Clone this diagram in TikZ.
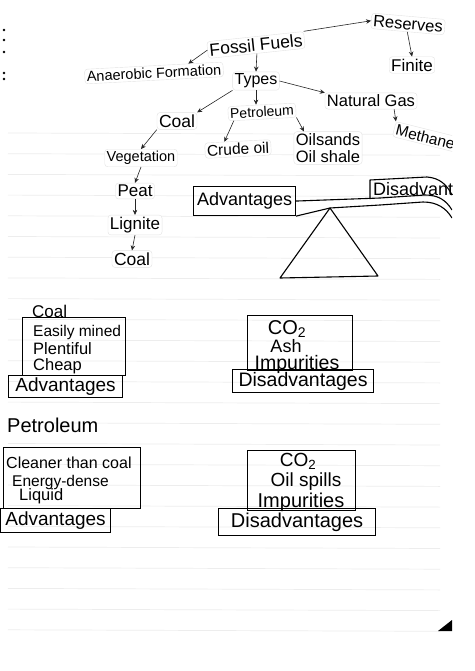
\documentclass[tikz,border=0pt]{standalone}
\usepackage{fontspec}
\setmainfont{Liberation Sans}
\usetikzlibrary{arrows.meta,calc}
\newcommand{\fz}[1]{\fontsize{#1}{#1}\selectfont}
\begin{document}
\begin{tikzpicture}[x=1pt,y=-1pt,
  rule/.style={draw=gray!14, line width=0.7pt},
  lbl/.style={fill=white, draw=gray!22, rounded corners=3pt, inner sep=2pt, text=black},
  arr/.style={-{Stealth[length=5pt,width=4.5pt]}, line width=0.6pt, draw=black!85},
  ink/.style={line width=1.1pt, draw=black, line join=round},
  cbox/.style={draw=black, line width=1.1pt, inner sep=0pt},
  txt/.style={inner sep=0pt, text=black},
]
\useasboundingbox (0,0) rectangle (474,671);
\fill[white] (0,0) rectangle (474,671);
\begin{scope}
\clip (0,0) rectangle (452,671);
% ruled paper
\foreach \k in {0,...,24}{ \draw[rule] (8,{133+20.7*\k}) -- (440,{134.5+20.7*\k}); }
% binder marks
\foreach \yy in {30,40,52,73,79}{ \fill[black] (4,\yy) circle (1.3pt); }
\fill[black] (452,620) -- (452,631) -- (438,631) -- cycle;

% concept map
\node[lbl, font=\fz{17.5}, rotate=6] (ff) at (256,45) {Fossil Fuels};
\node[lbl, font=\fz{16.5}, rotate=-5] (res) at (408,24) {Reserves};
\node[lbl, font=\fz{17}] (fin) at (412,65) {Finite};
\node[lbl, font=\fz{14.5}, rotate=3] (anae) at (154,73) {Anaerobic Formation};
\node[lbl, font=\fz{16}] (types) at (256,81) {Types};
\node[lbl, font=\fz{17.5}] (coal) at (177,121) {Coal};
\node[lbl, font=\fz{14}, rotate=3] (petro) at (262,112) {Petroleum};
\node[lbl, font=\fz{16.5}] (ng) at (371,101) {Natural Gas};
\node[lbl, font=\fz{14.5}] (veg) at (141,158) {Vegetation};
\node[lbl, font=\fz{17}] (peat) at (135,191) {Peat};
\node[lbl, font=\fz{17}] (lig) at (135,225) {Lignite};
\node[lbl, font=\fz{17.5}] (coalb) at (132,259) {Coal};
\node[lbl, font=\fz{15.5}, rotate=3] (crude) at (238,149) {Crude oil};
\node[lbl, font=\fontsize{16.5}{16.5}\selectfont, align=center] (oil) at (328,148) {Oilsands\\Oil shale};
\node[lbl, font=\fz{15.5}, rotate=-14, anchor=west] (meth) at (394,129) {Methane};

\draw[arr] (ff.north east) -- (res.west);
\draw[arr] (res.south) -- (fin.north);
\draw[arr] (ff.west) -- ($(anae.north east)!0.25!(anae.north west)$);
\draw[arr] (ff.south) -- (types.north);
\draw[arr] (types.south west) -- (coal.north east);
\draw[arr] (types.south) -- (types.south |- petro.north);
\draw[arr] (types.east) -- (ng.north west);
\draw[arr] (coal.south west) -- (veg.north);
\draw[arr] ($(petro.south west)!0.08!(petro.south east)$) -- ($(crude.north west)!0.3!(crude.north east)$);
\draw[arr] (petro.south east) -- ($(oil.north west)!0.15!(oil.north east)$);
\draw[arr] ($(ng.south east)!0.25!(ng.south west)$) -- (meth.north west);
\draw[arr] (veg.south) -- (peat.north);
\draw[arr] (peat.south) -- (lig.north);
\draw[arr] (lig.south) -- (coalb.north);

% seesaw
\node[cbox, anchor=north west, minimum width=102pt, minimum height=29pt, font=\fz{18}] (sadv) at (193,186) {Advantages};
\node[txt, font=\fz{18}, anchor=base west] (sdis) at (373,195) {Disadvantages};
\draw[ink] (370,199) -- (370,180) -- (427,177) .. controls (440,178) and (447,185) .. (452,195);
\coordinate (apex) at (330,208);
\draw[ink] (sadv.east) -- (380,198) -- (425,195) .. controls (438,195) and (446,200) .. (452,210);
\draw[ink] (sadv.south east) -- (apex) -- (380,205) -- (423,202) .. controls (437,202) and (446,208) .. (452,218);
\draw[ink] (apex) -- (378,276) -- (280,278) -- cycle;

% coal
\node[txt, font=\fz{17}, anchor=base west] (lcoal) at (32,317) {Coal};
\node[cbox, anchor=north west, minimum width=103pt, minimum height=58pt] (cab) at (22,317) {};
\node[txt, font=\fz{15.5}, anchor=base west] (c1) at (33,336) {Easily mined};
\node[txt, font=\fz{16.5}, anchor=base west] (c2) at (33,354) {Plentiful};
\node[txt, font=\fz{16.5}, anchor=base west] (c3) at (33,370) {Cheap};
\node[cbox, anchor=north west, minimum width=114pt, minimum height=22pt, font=\fz{19}] (cadv) at (8,375) {Advantages};

\node[cbox, anchor=north west, minimum width=105pt, minimum height=55pt] (cdb) at (247,315) {};
\node[txt, font=\fz{20}, anchor=base] (d1) at (287,334) {CO\textsubscript{2}};
\node[txt, font=\fz{18}, anchor=base] (d2) at (286,352) {Ash};
\node[txt, font=\fz{19.5}, anchor=base] (d3) at (297,369) {Impurities};
\node[cbox, anchor=north west, minimum width=141pt, minimum height=23pt, font=\fz{19.5}] (cdis) at (232,369) {Disadvantages};

% petroleum
\node[txt, font=\fz{20}, anchor=base west] (lpet) at (7,432) {Petroleum};
\node[cbox, anchor=north west, minimum width=137pt, minimum height=61pt] (pab) at (3,447) {};
\node[txt, font=\fz{16}, anchor=base west] (p1) at (6,468) {Cleaner than coal};
\node[txt, font=\fz{15.5}, anchor=base west] (p2) at (12,486) {Energy-dense};
\node[txt, font=\fz{16.5}, anchor=base west] (p3) at (19,500) {Liquid};
\node[cbox, anchor=north west, minimum width=110pt, minimum height=24pt, font=\fz{19}] (padv) at (0,508) {Advantages};

\node[cbox, anchor=north west, minimum width=108pt, minimum height=60pt] (pdb) at (247,450) {};
\node[txt, font=\fz{19}, anchor=base] (q1) at (298,466) {CO\textsubscript{2}};
\node[txt, font=\fz{19}, anchor=base] (q2) at (306,486) {Oil spills};
\node[txt, font=\fz{20}, anchor=base] (q3) at (301,507) {Impurities};
\node[cbox, anchor=north west, minimum width=157pt, minimum height=27pt, font=\fz{20}] (pdis) at (218,508) {Disadvantages};
\end{scope}
\end{tikzpicture}
\end{document}
